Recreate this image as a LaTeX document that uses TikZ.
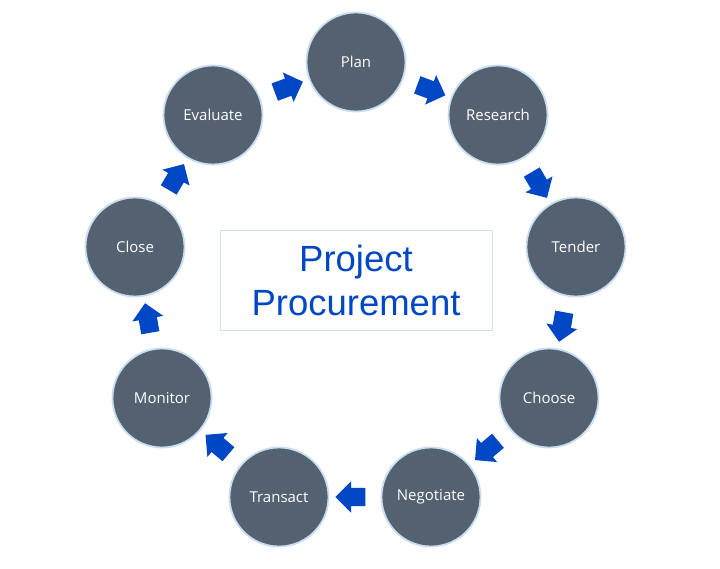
\documentclass[tikz,border=0pt]{standalone}
\usepackage{fontspec}
\setmainfont{Open Sans}
\newfontfamily\titlefont{Liberation Sans}
\usetikzlibrary{shapes.arrows}
\definecolor{stepgray}{HTML}{536170}
\definecolor{stepring}{HTML}{C8DCF0}
\definecolor{arrowblue}{HTML}{0047C6}
\definecolor{boxline}{HTML}{CFE0F0}

\tikzset{
	stepnode/.style={circle, fill=stepgray, draw=stepring, line width=1.8pt, minimum size=99pt, inner sep=0pt, text=white, font=\fontsize{15}{17}\selectfont},
	arrowbox/.style={single arrow, fill=arrowblue, draw=none, minimum height=30pt, single arrow head extend=6.5pt, inner xsep=0pt, inner ysep=9pt, sloped, allow upside down}
}

\begin{document}
\begin{tikzpicture}[x=1pt, y=-1pt]
			\useasboundingbox (0,0) rectangle (720,569);
			\node[stepnode] (plan) at (356,62) {Plan};
			\node[stepnode] (research) at (498,115) {Research};
			\node[stepnode] (tender) at (576,247) {Tender};
			\node[stepnode] (choose) at (549,398) {Choose};
			\node[stepnode] (negotiate) at (431,497) {Negotiate};
			\node[stepnode] (transact) at (279,497) {Transact};
			\node[stepnode] (monitor) at (162,398) {Monitor};
			\node[stepnode] (close) at (135,247) {Close};
			\node[stepnode] (evaluate) at (213,115) {Evaluate};
			% box in the middle
			\node[draw=boxline, line width=0.8pt, minimum width=272pt, minimum height=100pt, align=center, text=arrowblue, font=\titlefont\fontsize{36.5}{44}\selectfont] (title) at (356,280) {Project\\Procurement};
			% arrows between the steps
			\path (plan.center) -- (research.center) node[midway, arrowbox] (a1) {};
			\path (research.center) -- (tender.center) node[midway, arrowbox] (a2) {};
			\path (tender.center) -- (choose.center) node[midway, arrowbox] (a3) {};
			\path (choose.center) -- (negotiate.center) node[midway, arrowbox] (a4) {};
			\path (negotiate.center) -- (transact.center) node[midway, arrowbox] (a5) {};
			\path (transact.center) -- (monitor.center) node[midway, arrowbox] (a6) {};
			\path (monitor.center) -- (close.center) node[midway, arrowbox] (a7) {};
			\path (close.center) -- (evaluate.center) node[midway, arrowbox] (a8) {};
			\path (evaluate.center) -- (plan.center) node[midway, arrowbox] (a9) {};
		\end{tikzpicture}
\end{document}
